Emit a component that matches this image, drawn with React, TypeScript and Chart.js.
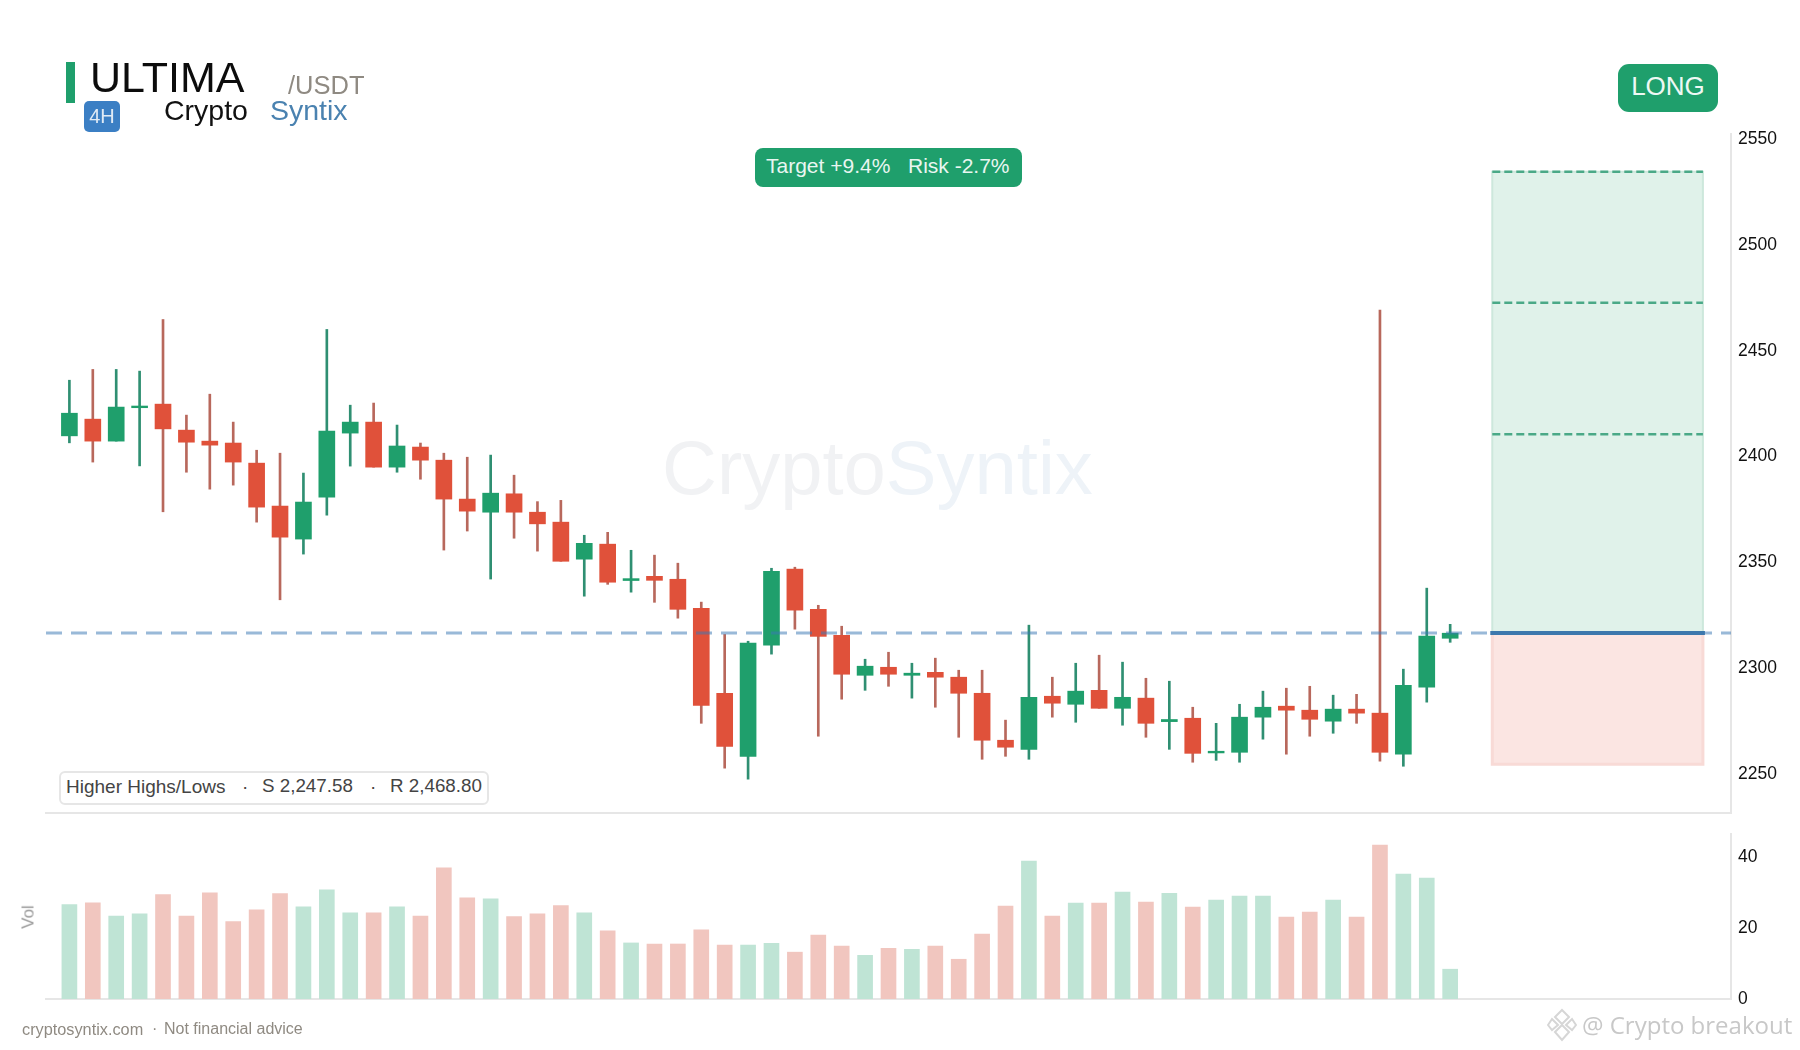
import React, { useEffect, useRef } from "react";
import { Chart, registerables } from "chart.js";

Chart.register(...registerables);

const opens = [2409.8,2417.7,2407.3,2423.1,2424.8,2412.5,2407.3,2406.4,2396.9,2376.6,2361,2380.8,2411.1,2416.3,2395,2404.5,2398.3,2379.9,2373.7,2382.4,2373.7,2369,2351.5,2358.6,2341.4,2343.4,2342,2328.3,2288.1,2258.3,2310.8,2346.8,2327.8,2315.5,2296.6,2300.4,2296.6,2298,2295.7,2288.1,2265.9,2261.6,2286.7,2282.9,2289.5,2281,2285.8,2274.7,2276.3,2259.9,2260.2,2276.8,2282,2280.1,2274.9,2280.6,2278.7,2259.3,2291,2314.1];
const closes = [2420.5,2407.3,2423.4,2423.9,2413.1,2406.8,2405.4,2397.4,2376.1,2361.9,2378.5,2412,2416.3,2395,2405,2398.3,2379.9,2374.2,2382.7,2373.7,2368.2,2350.5,2359,2340.6,2342.3,2341.5,2327.8,2282.4,2263,2311.8,2345.8,2327.4,2315,2297.1,2300.9,2297.1,2297.6,2295.7,2288.1,2265.9,2262.6,2286.2,2283.4,2289.1,2281,2286.2,2273.9,2275.7,2259.7,2260.7,2276.8,2281.5,2280.1,2275.8,2280.6,2278.7,2260.2,2291.9,2315.1,2316.5];
const highs = [2436.1,2441.2,2441.2,2440.4,2464.8,2419.6,2429.5,2416.3,2403,2401.6,2392.2,2460.1,2424.3,2425.3,2414.9,2406.4,2401.6,2399.7,2400.7,2391.2,2378.7,2379.3,2362.8,2364.2,2355.7,2353.4,2349.6,2331.2,2315.9,2312.7,2347.2,2347.7,2329.7,2319.8,2304.2,2307.5,2302.3,2304.7,2299,2299,2275.4,2320.3,2295.7,2302.3,2306.1,2302.8,2295.2,2293.8,2281.5,2273.9,2282.9,2289.1,2290.5,2291.4,2287.2,2287.6,2469.3,2299.5,2337.8,2320.7];
const lows = [2406.5,2397.4,2407.3,2395.6,2373.9,2392.6,2384.6,2386.5,2369,2332.3,2353.9,2372.3,2395.5,2395,2392.6,2389.3,2355.8,2364.8,2342.1,2361.4,2355.3,2350.5,2334,2339.6,2335.9,2331.1,2323.6,2273.9,2252.7,2247.5,2306.6,2318.4,2267.8,2285.3,2289.5,2291.4,2285.8,2281.5,2267.3,2256.9,2258.3,2256.9,2276.8,2274.4,2281,2273,2267.3,2261.6,2255.5,2256.4,2255.5,2266.4,2259.3,2267.8,2269.2,2273.9,2256,2253.6,2283.9,2312.2];
const volumes = [26.6,27.1,23.4,24,29.4,23.4,29.9,21.8,25.1,29.7,26,30.8,24.3,24.3,26,23.4,37,28.5,28.2,23.2,24,26.3,24.3,19.2,15.8,15.5,15.5,19.5,15.2,15.2,15.7,13.2,18,14.9,12.3,14.3,14,14.9,11.2,18.3,26.2,38.9,23.4,27,27,30.1,27.3,29.8,25.9,27.9,29,29,23.1,24.5,27.9,23.1,43.4,35.2,34.1,8.4];

const entryPrice = 2316.6;
const stopPrice = 2254.5;
const targetPrices = [2410.5, 2472.7, 2534.7];
const zoneStart = 60.8;
const zoneEnd = 69.8;
const xMin = -1;
const xMax = 71;
const priceTicks = [2250, 2300, 2350, 2400, 2450, 2500, 2550];
const volumeTicks = [0, 20, 40];

const GREEN = "#1f9f6c";
const RED = "#e0513a";
const GREEN_WICK = "#2f8f72";
const RED_WICK = "#b8685c";
const AXIS = "#e6e6e6";
const FONT = '"Liberation Sans", Arial, sans-serif';

const isUp = (i: number) => closes[i] >= opens[i];

function abs(extra: React.CSSProperties): React.CSSProperties {
  return { position: "absolute", whiteSpace: "pre", lineHeight: 1, ...extra };
}

export default function App() {
  const priceRef = useRef<HTMLCanvasElement>(null);
  const volRef = useRef<HTMLCanvasElement>(null);

  useEffect(() => {
    document.body.style.margin = "0";
    document.body.style.background = "#fff";
    const xs = opens.map((_, i) => i);
    const line = (pts: { x: number; y: number }[], extra: any) => ({
      type: "line",
      data: pts,
      pointRadius: 0,
      tension: 0,
      fill: false,
      ...extra,
    });
    const xScale = {
      type: "linear",
      min: xMin,
      max: xMax,
      offset: false,
      ticks: { display: false },
      grid: { display: false, drawTicks: false, offset: false },
      border: { display: true, color: AXIS, width: 2 },
      afterFit: (s: any) => { s.height = 0; },
    };
    const yBase = {
      position: "right",
      grid: { display: false, drawTicks: false },
      border: { display: true, color: AXIS, width: 2 },
      afterFit: (s: any) => { s.width = 69; },
    };

    const price = new Chart(priceRef.current!, {
      type: "bar",
      data: {
        datasets: [
          line([{ x: zoneStart, y: entryPrice }, { x: zoneStart, y: targetPrices[2] }, { x: zoneEnd, y: targetPrices[2] }, { x: zoneEnd, y: entryPrice }], {
            fill: { value: entryPrice }, backgroundColor: "#e0f2ea", borderColor: "#cde8dc", borderWidth: 2, order: 10,
          }),
          line([{ x: zoneStart, y: entryPrice }, { x: zoneStart, y: stopPrice }, { x: zoneEnd, y: stopPrice }, { x: zoneEnd, y: entryPrice }], {
            fill: { value: entryPrice }, backgroundColor: "#fbe5e2", borderColor: "#f8dad6", borderWidth: 3, order: 10,
          }),
          ...targetPrices.map((t) =>
            line([{ x: zoneStart, y: t }, { x: zoneEnd, y: t }], { borderColor: "#4aa987", borderWidth: 2.5, borderDash: [8, 4], order: 5 })
          ),
          {
            label: "wicks",
            data: xs.map((i) => ({ x: i, y: [lows[i], highs[i]] })),
            backgroundColor: xs.map((i) => (isUp(i) ? GREEN_WICK : RED_WICK)),
            barThickness: 2,
            grouped: false,
            order: 4,
          },
          {
            label: "bodies",
            data: xs.map((i) => ({ x: i, y: [opens[i], closes[i]] })),
            backgroundColor: xs.map((i) => (isUp(i) ? GREEN : RED)),
            barThickness: 16,
            grouped: false,
            order: 3,
          },
          line([{ x: xMin, y: entryPrice }, { x: xMax, y: entryPrice }], { borderColor: "rgba(60,120,180,0.52)", borderWidth: 3, borderDash: [16, 9], order: 2 }),
          line([{ x: zoneStart, y: entryPrice }, { x: zoneEnd, y: entryPrice }], { borderColor: "#3c78ad", borderWidth: 4, borderCapStyle: "square", order: 1 }),
        ] as any,
      },
      options: {
        responsive: false,
        animation: false,
        layout: { padding: { left: 46, top: 134, bottom: 237, right: 0 } },
        plugins: { legend: { display: false }, tooltip: { enabled: false } },
        scales: {
          x: xScale,
          y: {
            ...yBase,
            min: 2231.5,
            max: 2552.5,
            ticks: {
              stepSize: 50,
              includeBounds: false,
              padding: 7,
              color: "#111",
              font: { family: FONT, size: 17.5 },
              callback: (v: any) => (priceTicks.includes(Number(v)) ? String(v) : ""),
            },
          },
        },
      } as any,
    });

    const vol = new Chart(volRef.current!, {
      type: "bar",
      data: {
        datasets: [
          {
            label: "Vol",
            data: xs.map((i) => ({ x: i, y: volumes[i] })),
            backgroundColor: xs.map((i) => (isUp(i) ? "#bfe4d5" : "#f1c6bf")),
            barThickness: 15,
          },
        ],
      },
      options: {
        responsive: false,
        animation: false,
        layout: { padding: { left: 46, top: 834, bottom: 51, right: 0 } },
        plugins: { legend: { display: false }, tooltip: { enabled: false } },
        scales: {
          x: xScale,
          y: {
            ...yBase,
            min: 0,
            max: 46.5,
            ticks: {
              stepSize: 20,
              includeBounds: false,
              padding: 7,
              color: "#111",
              font: { family: FONT, size: 17.5 },
              callback: (v: any) => (volumeTicks.includes(Number(v)) ? String(v) : ""),
            },
          },
        },
      } as any,
    });

    return () => {
      price.destroy();
      vol.destroy();
    };
  }, []);

  return (
    <div style={{ position: "absolute", left: 0, top: 0, width: 1800, height: 1050, overflow: "hidden", background: "#fff", fontFamily: FONT }}>
      {/* watermark */}
      <div style={abs({ left: 662, top: 430, fontSize: 76, color: "#f1f2f4" })}>
        Crypto<span style={{ color: "#eef3f8" }}>Syntix</span>
      </div>

      <canvas ref={priceRef} width={1800} height={1050} style={{ position: "absolute", left: 0, top: 0 }} />
      <canvas ref={volRef} width={1800} height={1050} style={{ position: "absolute", left: 0, top: 0 }} />

      {/* header */}
      <div style={{ position: "absolute", left: 66, top: 62, width: 9, height: 41, background: GREEN }} />
      <div style={abs({ left: 90, top: 56, fontSize: 43, color: "#0c0c0c" })}>ULTIMA</div>
      <div style={abs({ left: 288, top: 73, fontSize: 25.5, color: "#8f8a82" })}>/USDT</div>
      <div style={{ position: "absolute", left: 84, top: 101, width: 36, height: 31, borderRadius: 5, background: "#3b7fc4", color: "#dfeaf5", fontSize: 20, lineHeight: "31px", textAlign: "center" }}>4H</div>
      <div style={abs({ left: 164, top: 96, fontSize: 28.5, color: "#111" })}>Crypto</div>
      <div style={abs({ left: 270, top: 96, fontSize: 28.5, color: "#4a82b0" })}>Syntix</div>

      {/* LONG badge */}
      <div style={{ position: "absolute", left: 1618, top: 64, width: 100, height: 48, borderRadius: 11, background: GREEN, color: "#eef8f4", fontSize: 26, lineHeight: "45px", textAlign: "center" }}>LONG</div>

      {/* target pill */}
      <div style={{ position: "absolute", left: 755, top: 148, width: 267, height: 39, borderRadius: 8, background: GREEN }} />
      <div style={abs({ left: 766, top: 155, fontSize: 21, color: "#e9f6f1" })}>Target +9.4%</div>
      <div style={abs({ left: 908, top: 155, fontSize: 21, color: "#e9f6f1" })}>Risk -2.7%</div>

      {/* pattern label */}
      <div style={{ position: "absolute", left: 59, top: 771, width: 426, height: 30, border: "2px solid #e6e6e6", borderRadius: 6, background: "#fff" }} />
      <div style={abs({ left: 66, top: 777, fontSize: 19, color: "#444" })}>Higher Highs/Lows</div>
      <div style={abs({ left: 242, top: 777, fontSize: 19, color: "#444" })}>·</div>
      <div style={abs({ left: 262, top: 777, fontSize: 18.8, color: "#444" })}>S 2,247.58</div>
      <div style={abs({ left: 370, top: 777, fontSize: 19, color: "#444" })}>·</div>
      <div style={abs({ left: 390, top: 777, fontSize: 18.8, color: "#444" })}>R 2,468.80</div>

      {/* Vol label */}
      <div style={abs({ left: 28, top: 917, fontSize: 17, color: "#999", transform: "translate(-50%,-50%) rotate(-90deg)" })}>Vol</div>

      {/* footer */}
      <div style={abs({ left: 22, top: 1021, fontSize: 16.3, color: "#8f8a82" })}>cryptosyntix.com</div>
      <div style={abs({ left: 152, top: 1021, fontSize: 16, color: "#8f8a82" })}>·</div>
      <div style={abs({ left: 164, top: 1021, fontSize: 16, color: "#8f8a82" })}>Not financial advice</div>

      {/* source mark */}
      <svg width="30" height="34" viewBox="0 0 30 34" style={{ position: "absolute", left: 1547, top: 1008 }}>
        <g fill="none" stroke="#d6d6d6" strokeWidth="2">
          <path d="M15 2 L22 9 L15 16 L8 9 Z" />
          <path d="M5 11 L11 17 L5 22 L1 17 Z" />
          <path d="M25 11 L29 17 L25 22 L19 17 Z" />
          <path d="M8 24 L15 17 L22 24 L15 32 Z" />
        </g>
      </svg>
      <div style={abs({ left: 1582, top: 1013, fontSize: 24, color: "#c8c8c8", fontFamily: '"Open Sans", sans-serif' })}>@ Crypto breakout</div>
    </div>
  );
}
